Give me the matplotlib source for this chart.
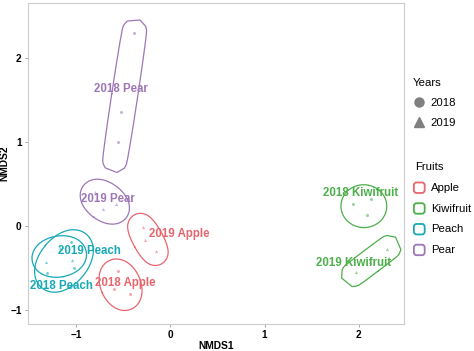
import numpy as np
import matplotlib
matplotlib.use("Agg")
from matplotlib import pyplot as plt
from matplotlib.lines import Line2D
from matplotlib.patches import Patch, FancyBboxPatch
from matplotlib.legend_handler import HandlerPatch

plt.rcParams['font.family'] = ['Liberation Sans', 'DejaVu Sans']

# NMDS scores, 3 samples per fruit and year
pear_2018_x = [-0.38, -0.52, -0.55]
pear_2018_y = [2.30, 1.36, 1.00]
pear_2019_x = [-0.80, -0.71, -0.57]
pear_2019_y = [0.41, 0.20, 0.26]
apple_2018_x = [-0.55, -0.60, -0.43]
apple_2018_y = [-0.54, -0.75, -0.81]
apple_2019_x = [-0.29, -0.27, -0.15]
apple_2019_y = [-0.01, -0.17, -0.30]
peach_2018_x = [-1.05, -1.31, -1.02]
peach_2018_y = [-0.19, -0.56, -0.50]
peach_2019_x = [-1.32, -1.04, -1.17]
peach_2019_y = [-0.43, -0.40, -0.26]
kiwi_2018_x = [1.94, 2.13, 2.09]
kiwi_2018_y = [0.26, 0.32, 0.13]
kiwi_2019_x = [1.97, 2.30, 2.12]
kiwi_2019_y = [-0.55, -0.27, -0.43]

fruits = ["Apple", "Kiwifruit", "Peach", "Pear"]
years = ["2018", "2019"]
colors = {"Apple": "#E8656D", "Kiwifruit": "#4DAF4A", "Peach": "#17A9B5", "Pear": "#9D76B8"}
markers = {"2018": "o", "2019": "^"}

groups = [
    ("Pear", "2018", pear_2018_x, pear_2018_y, (-0.52, 1.63)),
    ("Pear", "2019", pear_2019_x, pear_2019_y, (-0.66, 0.32)),
    ("Apple", "2018", apple_2018_x, apple_2018_y, (-0.48, -0.68)),
    ("Apple", "2019", apple_2019_x, apple_2019_y, (0.10, -0.10)),
    ("Peach", "2018", peach_2018_x, peach_2018_y, (-1.15, -0.71)),
    ("Peach", "2019", peach_2019_x, peach_2019_y, (-0.86, -0.30)),
    ("Kiwifruit", "2018", kiwi_2018_x, kiwi_2018_y, (2.02, 0.39)),
    ("Kiwifruit", "2019", kiwi_2019_x, kiwi_2019_y, (1.95, -0.44)),
]


def mark_ellipse(ax, xs, ys, color, expand_px=12):
    # smallest enclosing ellipse of 3 points (Steiner), grown by a fixed offset in pixels
    pts = ax.transData.transform(np.column_stack([xs, ys]))
    c = pts.mean(axis=0)
    cov = np.cov(pts.T, bias=True)
    vals, vecs = np.linalg.eigh(cov)
    vals = np.maximum(vals, 1e-6)
    A = vecs @ np.diag(np.sqrt(2 * vals))
    t = np.linspace(0, 2 * np.pi, 300)
    u = np.vstack([np.cos(t), np.sin(t)])
    e = (A @ u).T + c
    n = (np.linalg.inv(A).T @ u).T
    n /= np.linalg.norm(n, axis=1, keepdims=True)
    outline = ax.transData.inverted().transform(e + expand_px * n)
    ax.plot(outline[:, 0], outline[:, 1], color=color, lw=0.9)


def rounded_key(legend, orig_handle, xdescent, ydescent, width, height, fontsize):
    return FancyBboxPatch((-xdescent - 1, -ydescent - 1), width, height + 1,
                          boxstyle="round,pad=0,rounding_size=2")


fig = plt.figure(figsize=(4.74, 3.51), dpi=100)
ax = fig.add_axes([28 / 474, 1 - 324 / 351, 376 / 474, 321 / 351])
ax.set_xlim(-1.508, 2.479)
ax.set_ylim(-1.168, 2.658)

for fruit, year, xs, ys, (lx, ly) in groups:
    col = colors[fruit]
    ax.scatter(xs, ys, s=5, marker=markers[year], color=col, alpha=0.55, linewidths=0)
    mark_ellipse(ax, xs, ys, col)
    ax.text(lx, ly, f"{year} {fruit}", color=col, fontsize=8.3, fontweight="bold",
            ha="center", va="center")

for s in ax.spines.values():
    s.set_color("#CCCCCC")
    s.set_linewidth(0.8)
ax.set_xticks([-1, 0, 1, 2])
ax.set_yticks([-1, 0, 1, 2])
ax.tick_params(length=2.5, width=0.6, color="#999999", pad=2, labelsize=7.2)
for lab in ax.get_xticklabels() + ax.get_yticklabels():
    lab.set_fontweight("bold")
ax.set_xlabel("NMDS1", fontsize=7.4, fontweight="bold", labelpad=0.5)
ax.set_ylabel("NMDS2", fontsize=7.4, fontweight="bold", labelpad=0.5)

year_handles = [Line2D([], [], ls="", marker=markers[y], color="#7F7F7F", markersize=6.5)
                for y in years]
leg1 = fig.legend(year_handles, years, title="Years", loc="upper left",
                  bbox_to_anchor=(403 / 474, 1 - 68 / 351), frameon=False,
                  fontsize=8.2, title_fontsize=8.2, alignment="left",
                  handlelength=1.0, handletextpad=0.5, labelspacing=0.85)

fruit_handles = [Patch(facecolor="white", edgecolor=colors[f], linewidth=1.3) for f in fruits]
leg2 = fig.legend(fruit_handles, fruits, title="Fruits", loc="upper left",
                  bbox_to_anchor=(405 / 474, 1 - 152 / 351), frameon=False,
                  fontsize=8.2, title_fontsize=8.2, alignment="left",
                  handlelength=0.95, handleheight=0.85, handletextpad=0.45, labelspacing=0.9,
                  handler_map={Patch: HandlerPatch(patch_func=rounded_key)})

fig.savefig("out.png", dpi=100)
